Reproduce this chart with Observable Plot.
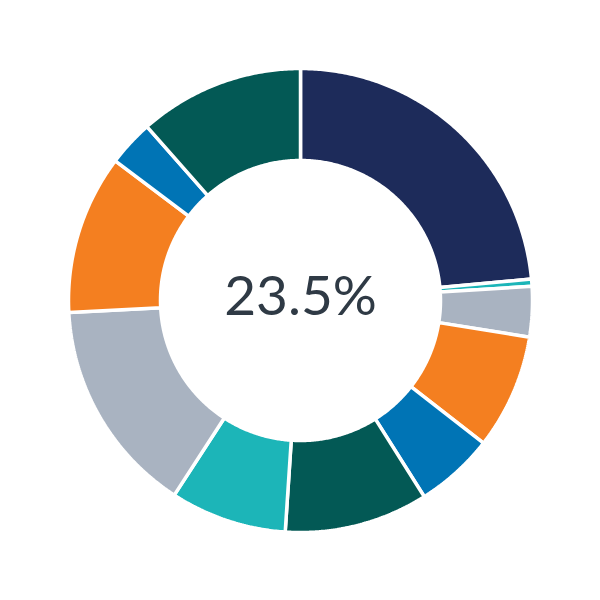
<!DOCTYPE html>
<html><head><meta charset="utf-8">
<script src="https://cdn.jsdelivr.net/npm/d3@7"></script>
<script src="https://cdn.jsdelivr.net/npm/@observablehq/plot@0.6"></script>
<style>body{margin:0;background:#fff;}</style>
</head><body><div id="chart"></div>
<script>
const segmentNames = ["Segment 1","Segment 2","Segment 3","Segment 4","Segment 5","Segment 6","Segment 7","Segment 8","Segment 9","Segment 10","Segment 11"];
const shares = [23.5, 0.5, 3.5, 8.0, 5.5, 10.0, 8.1, 15.0, 11.1, 3.2, 11.5];
const segmentColors = ["#1d2b5a","#1cb5b8","#a9b3c1","#f47f20","#0074b5","#035955","#1cb5b8","#a9b3c1","#f47f20","#0074b5","#035955"];
const centerLabel = "23.5%";

const outerR = 232, innerR = 140;
const arcs = d3.pie().sort(null).value(d => d)(shares);
const pts = [];
arcs.forEach((a, i) => {
  const name = segmentNames[i];
  const n = Math.max(2, Math.ceil((a.endAngle - a.startAngle) / (Math.PI / 360)));
  for (let k = 0; k <= n; k++) {
    const t = a.startAngle + (a.endAngle - a.startAngle) * k / n;
    pts.push({name, x: outerR * Math.sin(t), y: outerR * Math.cos(t)});
  }
  for (let k = n; k >= 0; k--) {
    const t = a.startAngle + (a.endAngle - a.startAngle) * k / n;
    pts.push({name, x: innerR * Math.sin(t), y: innerR * Math.cos(t)});
  }
});

const chart = Plot.plot({
  width: 600, height: 600, margin: 0,
  x: {domain: [-300, 300], axis: null},
  y: {domain: [-300, 300], axis: null},
  color: {domain: segmentNames, range: segmentColors},
  marks: [
    Plot.line(pts, {x: "x", y: "y", z: "name", fill: "name", stroke: "white", strokeWidth: 3.5, strokeLinejoin: "miter", curve: "linear-closed"}),
    Plot.text([centerLabel], {frameAnchor: "middle", text: d => d, fontSize: 55, fill: "#2f3a45", fontFamily: "Lato", fontWeight: 400, dy: -3})
  ]
});
document.getElementById("chart").appendChild(chart);
</script>
</body></html>
